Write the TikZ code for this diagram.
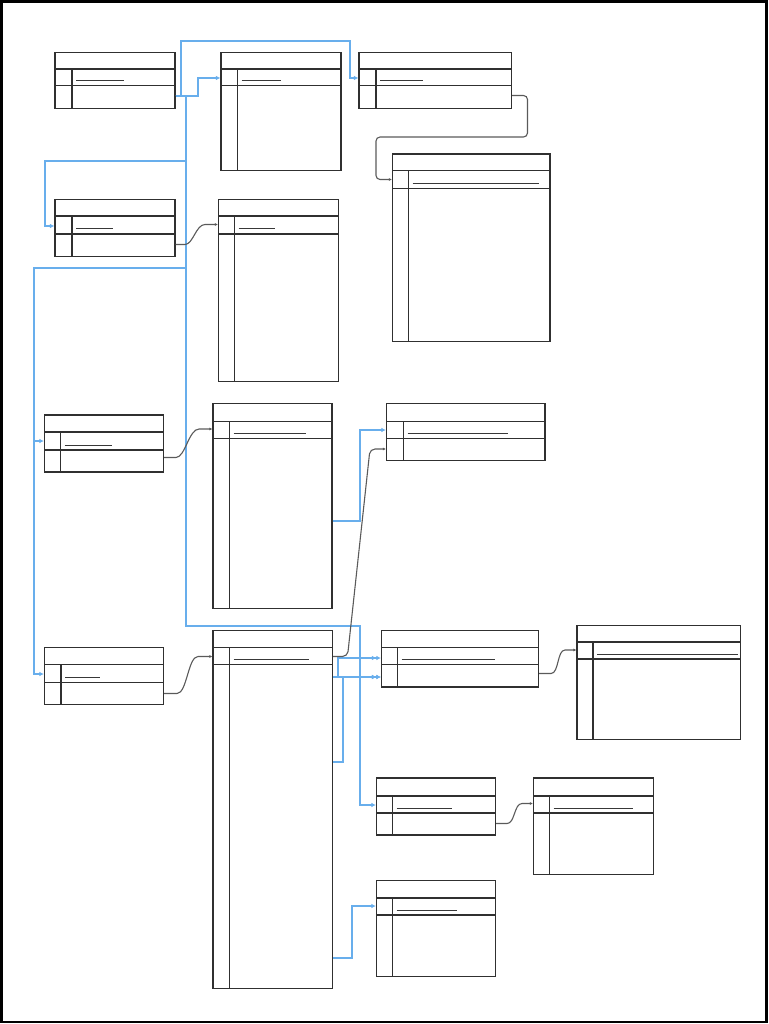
\documentclass[tikz,border=0pt]{standalone}
\usetikzlibrary{fit,arrows.meta}
\definecolor{tblc}{HTML}{303030}
\definecolor{ulc}{HTML}{383838}
\definecolor{bluec}{HTML}{68AEEC}
\definecolor{grayc}{HTML}{5A5A5A}
\tikzset{
  tbl/.style={draw=tblc, line width=1.1pt, inner sep=0pt},
  tline/.style={draw=tblc, line width=1.1pt},
  uline/.style={draw=ulc, line width=1pt},
  bl/.style={draw=bluec, line width=1.6pt, -{Latex[length=4.5pt,width=4.5pt]}},
  bltwo/.style={draw=bluec, line width=1.6pt, -{Latex[length=4.5pt,width=4.5pt]Latex[length=4.5pt,width=4.5pt]}},
  gr/.style={draw=grayc, line width=1.1pt, -{Latex[length=3pt,width=3pt]}},
}
\newcommand{\ertable}[9]{%
  \node[tbl, fit={(#2,#3) (#4,#5)}] (#1) {};
  \draw[tline] (#2,#6) -- (#4,#6) (#2,#7) -- (#4,#7) (#8,#6) -- (#8,#5);
  \draw[uline] (#8+4,#7-5) -- (#9,#7-5);
}
\begin{document}
\begin{tikzpicture}[x=1pt,y=-1pt]
\useasboundingbox (0,0) rectangle (768,1024);
\draw[black, line width=2.2pt] (1.5,1.5) rectangle (766.5,1022.3);

% tables: name, left, top, right, bottom, header line, row1 line, key column, underline end
\ertable{T1}{55}{52.5}{175}{108.5}{69}{85.5}{72}{124}
\ertable{T2}{221}{52.5}{341}{170.5}{69}{85.5}{237.5}{281}
\ertable{T3}{359}{52.5}{511.5}{108.5}{69}{85.5}{376}{423}
\ertable{T4}{55}{199.5}{175}{256.5}{216}{234}{72}{112.7}
\ertable{T5}{218.5}{199.5}{338.5}{381.5}{216}{234}{234.5}{275}
\ertable{T6}{392.5}{154}{550}{341.5}{170.5}{188.5}{408.5}{539}
\ertable{T7}{44.5}{415}{163.5}{472}{432}{450}{60.5}{111.7}
\ertable{T8}{213}{403.5}{332}{608.5}{421.5}{438.5}{229.5}{306}
\ertable{T9}{386.5}{403.5}{545}{460.5}{421.5}{438.5}{403.5}{507.7}
\ertable{T10}{213}{630.5}{332.5}{988.5}{647.5}{664.5}{229.5}{309}
\ertable{T11}{44.5}{647.5}{163.5}{704.5}{664.5}{682.5}{61}{99.7}
\ertable{T12}{381.5}{630.5}{538.5}{687}{647.5}{664.5}{397.5}{494.7}
\ertable{T13}{376.5}{778}{495.5}{835}{796}{813}{392.5}{452.3}
\ertable{T14}{376.5}{880.5}{495.5}{976.5}{898}{915}{392.5}{457.3}
\ertable{T15}{533.5}{778}{653.5}{874.5}{796}{813}{549.5}{632.7}
\ertable{T16}{577}{625.5}{740.5}{739.5}{642}{659}{593}{737.7}

% blue connectors
\draw[bl] (T1.east |- 0,96) -- (198,96) |- (T2.west |- 0,78);
\draw[bl] (T1.east |- 0,96) -- (181,96) -- (181,41) -- (350,41) |- (T3.west |- 0,78);
\draw[bl] (T1.east |- 0,96) -- (186,96) -- (186,161) -- (45,161) |- (T4.west |- 0,226);
\draw[bl] (T1.east |- 0,96) -- (186,96) -- (186,268) -- (34,268) |- (T7.west |- 0,441);
\draw[bl] (T1.east |- 0,96) -- (186,96) -- (186,268) -- (34,268) |- (T11.west |- 0,674);
\draw[bl] (T1.east |- 0,96) -- (186,96) -- (186,626) -- (360,626) |- (T13.west |- 0,805);
\draw[bl] (T8.east |- 0,521) -- (360,521) |- (T9.west |- 0,430);
\draw[bltwo] (T10.east |- 0,677) -- (T12.west |- 0,677);
\draw[bltwo] (T10.east |- 0,762) -- (343,762) |- (T12.west |- 0,677);
\draw[bltwo] (T10.east |- 0,677) -- (338,677) |- (T12.west |- 0,658);
\draw[bl] (T10.east |- 0,958) -- (352,958) |- (T14.west |- 0,906);

% gray connectors
\draw[gr, rounded corners=4pt] (T3.east |- 0,95.5) -- (527.5,95.5) -- (527.5,137) -- (376,137) -- (376,179.5) -- (T6.west |- 0,179.5);
\draw[gr] (T4.east |- 0,244.5) -- (185,244.5) .. controls (193,244.5) and (196,224.5) .. (205,224.5) -- (T5.west |- 0,224.5);
\draw[gr] (T7.east |- 0,457.5) -- (176,457.5) .. controls (185,457.5) and (189,429) .. (199,429) -- (T8.west |- 0,429);
\draw[gr] (T11.east |- 0,693.5) -- (177,693.5) .. controls (187,693.5) and (188,656.5) .. (198,656.5) -- (T10.west |- 0,656.5);
\draw[gr, rounded corners=5pt] (T10.east |- 0,656.5) -- (347.5,656.5) -- (370,449) -- (T9.west |- 0,449);
\draw[gr] (T12.east |- 0,673.5) -- (551,673.5) .. controls (559,673.5) and (557,650) .. (565,650) -- (T16.west |- 0,650);
\draw[gr] (T13.east |- 0,823.5) -- (507,823.5) .. controls (515,823.5) and (514,803.5) .. (522,803.5) -- (T15.west |- 0,803.5);
\end{tikzpicture}
\end{document}
